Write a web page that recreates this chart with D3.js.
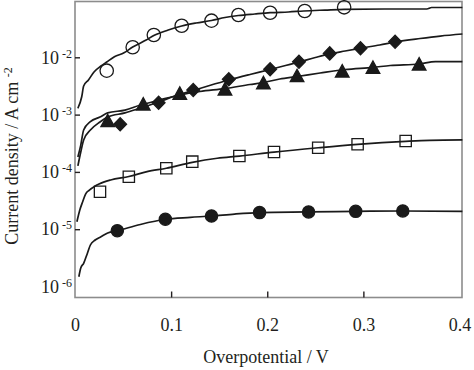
<!DOCTYPE html>
<html lang="en">
<head>
<meta charset="UTF-8"/>
<title>Current density vs overpotential</title>
<script src="https://d3js.org/d3.v7.min.js"></script>
<style>
	body { margin: 0; background: #fff; }
	text { font-family: "Liberation Serif", "Times New Roman", serif; fill: #231f20; }
	.curve { fill: none; stroke: #1a1a1a; stroke-width: 1.7; }
	.frame { fill: none; stroke: #8c8c8c; stroke-width: 1.6; }
	.tick line { stroke: #231f20; stroke-width: 1.4; }
</style>
</head>
<body>
<div id="chart"></div>
<script>
var w = 474;
var h = 370;

// measured points: overpotential (V) and current density (A cm-2)
var openCircV = [0.033, 0.060, 0.082, 0.111, 0.142, 0.170, 0.203, 0.239, 0.280];
var openCircJ = [5.84e-3, 1.50e-2, 2.45e-2, 3.56e-2, 4.36e-2, 5.47e-2, 6.00e-2, 6.43e-2, 7.46e-2];

var diamondV = [0.047, 0.087, 0.123, 0.160, 0.203, 0.233, 0.265, 0.297, 0.333];
var diamondJ = [6.78e-4, 1.61e-3, 2.69e-3, 4.13e-3, 6.18e-3, 8.37e-3, 1.17e-2, 1.44e-2, 1.87e-2];

var triangleV = [0.034, 0.071, 0.109, 0.156, 0.196, 0.231, 0.278, 0.310, 0.358];
var triangleJ = [7.84e-4, 1.53e-3, 2.36e-3, 2.80e-3, 3.60e-3, 4.78e-3, 5.77e-3, 6.68e-3, 7.64e-3];

var squareV = [0.026, 0.056, 0.095, 0.122, 0.171, 0.207, 0.253, 0.294, 0.344];
var squareJ = [4.51e-5, 8.24e-5, 1.16e-4, 1.51e-4, 1.89e-4, 2.22e-4, 2.64e-4, 3.03e-4, 3.46e-4];

var dotV = [0.044, 0.094, 0.142, 0.192, 0.243, 0.292, 0.341];
var dotJ = [9.42e-6, 1.49e-5, 1.70e-5, 1.95e-5, 2.00e-5, 2.05e-5, 2.08e-5];

// fitted curves
var openCircFitV = [0.003, 0.007, 0.009, 0.014, 0.020, 0.027, 0.033, 0.041, 0.051, 0.060, 0.074, 0.082, 0.097, 0.111, 0.126, 0.142, 0.156, 0.170, 0.187, 0.203, 0.222, 0.238, 0.260, 0.280, 0.323, 0.366, 0.371, 0.403];
var openCircFitJ = [1.29e-3, 2.05e-3, 3.16e-3, 4.02e-3, 5.61e-3, 7.05e-3, 8.28e-3, 1.02e-2, 1.20e-2, 1.51e-2, 2.00e-2, 2.40e-2, 2.99e-2, 3.52e-2, 3.97e-2, 4.39e-2, 4.95e-2, 5.36e-2, 5.70e-2, 6.00e-2, 6.18e-2, 6.43e-2, 6.68e-2, 6.89e-2, 6.97e-2, 6.97e-2, 7.40e-2, 7.40e-2];

var triangleFitV = [0.003, 0.006, 0.009, 0.016, 0.026, 0.034, 0.052, 0.068, 0.088, 0.109, 0.130, 0.156, 0.182, 0.196, 0.213, 0.231, 0.255, 0.281, 0.310, 0.328, 0.358, 0.375, 0.403];
var triangleFitJ = [1.82e-4, 2.94e-4, 5.38e-4, 7.52e-4, 9.08e-4, 1.07e-3, 1.20e-3, 1.47e-3, 1.80e-3, 2.20e-3, 2.53e-3, 2.85e-3, 3.35e-3, 3.63e-3, 4.18e-3, 4.62e-3, 5.32e-3, 6.12e-3, 6.68e-3, 7.19e-3, 7.64e-3, 8.38e-3, 8.38e-3];

var diamondFitV = [0.003, 0.006, 0.009, 0.016, 0.026, 0.034, 0.052, 0.068, 0.086, 0.104, 0.123, 0.140, 0.160, 0.182, 0.203, 0.219, 0.233, 0.250, 0.264, 0.281, 0.298, 0.317, 0.333, 0.359, 0.380, 0.403];
var diamondFitJ = [1.27e-4, 2.22e-4, 3.61e-4, 5.38e-4, 7.43e-4, 9.08e-4, 1.07e-3, 1.30e-3, 1.63e-3, 2.11e-3, 2.64e-3, 3.22e-3, 4.02e-3, 5.01e-3, 6.12e-3, 7.19e-3, 8.28e-3, 9.92e-3, 1.14e-2, 1.29e-2, 1.45e-2, 1.64e-2, 1.85e-2, 2.13e-2, 2.35e-2, 2.55e-2];

var squareFitV = [0.002, 0.005, 0.008, 0.011, 0.015, 0.021, 0.025, 0.037, 0.056, 0.075, 0.095, 0.122, 0.148, 0.171, 0.207, 0.253, 0.294, 0.344, 0.369, 0.403];
var squareFitJ = [1.35e-5, 2.16e-5, 3.02e-5, 4.11e-5, 4.83e-5, 5.67e-5, 6.15e-5, 7.23e-5, 8.32e-5, 1.01e-4, 1.16e-4, 1.47e-4, 1.73e-4, 1.89e-4, 2.22e-4, 2.64e-4, 3.03e-4, 3.42e-4, 3.56e-4, 3.61e-4];

var dotFitV = [0.004, 0.006, 0.009, 0.013, 0.016, 0.021, 0.027, 0.034, 0.044, 0.068, 0.094, 0.120, 0.142, 0.166, 0.192, 0.242, 0.292, 0.341, 0.403];
var dotFitJ = [1.48e-6, 2.10e-6, 2.54e-6, 3.85e-6, 5.30e-6, 6.48e-6, 7.40e-6, 8.59e-6, 9.42e-6, 1.21e-5, 1.49e-5, 1.61e-5, 1.70e-5, 1.84e-5, 1.95e-5, 2.00e-5, 2.05e-5, 2.08e-5, 2.04e-5];

var xTicks = [0, 0.1, 0.2, 0.3, 0.4];
var yTicks = [1e-2, 1e-3, 1e-4, 1e-5, 1e-6];

function zip(a, b) {
	return a.map(function(v, i){ return {v: v, j: b[i]}; });
}

var xScale = d3.scaleLinear().domain([0, 0.4]).range([75, 459.5]);
var yScale = d3.scaleLog()
			.domain([Math.pow(10, -6.192), Math.pow(10, -1.026)])
			.range([297.5, 1.5]);

var svg = d3.select("#chart")
			.append("svg")
			.attr("width", w)
			.attr("height", h);

// plot frame
svg.append("rect")
	.attr("class", "frame")
	.attr("x", 75)
	.attr("y", 1.5)
	.attr("width", 387)
	.attr("height", 296);

// axes
var xAxis = d3.axisBottom(xScale)
			.tickValues(xTicks)
			.tickSizeInner(-6)
			.tickSizeOuter(0)
			.tickPadding(21)
			.tickFormat(function(d){ return d === 0 ? "0" : d3.format(".1f")(d); });

var gx = svg.append("g")
	.attr("transform", "translate(0," + 297.5 + ")")
	.call(xAxis);
gx.select(".domain").remove();
gx.attr("font-size", 18).attr("font-family", null);
gx.selectAll(".tick line").style("display", function(d){ return (d === 0 || d === 0.4) ? "none" : null; });

var yAxis = d3.axisLeft(yScale)
			.tickValues(yTicks)
			.tickSizeInner(-5)
			.tickSizeOuter(0)
			.tickPadding(3)
			.tickFormat(function(){ return "10"; });

var gy = svg.append("g")
	.attr("transform", "translate(75,0)")
	.call(yAxis);
gy.select(".domain").remove();
gy.attr("font-size", 18).attr("font-family", null);
gy.selectAll(".tick line").style("display", function(d){ return d === 1e-6 ? "none" : null; });
gy.selectAll(".tick text")
	.append("tspan")
	.attr("dx", 3)
	.attr("dy", "-0.5em")
	.attr("font-size", 12)
	.text(function(d){ return "-" + Math.round(-Math.log10(d)); });

// axis titles
svg.append("text")
	.attr("x", 266)
	.attr("y", 363)
	.attr("text-anchor", "middle")
	.attr("font-size", 18)
	.text("Overpotential / V");

var yt = svg.append("text")
	.attr("transform", "translate(18,156) rotate(-90)")
	.attr("text-anchor", "middle")
	.attr("font-size", 18)
	.text("Current density / A cm ");
yt.append("tspan")
	.attr("dy", "-0.5em")
	.attr("font-size", 12)
	.text(" -2");

// markers
var sym = {
	openCirc: d3.symbol().type(d3.symbolCircle).size(140)(),
	dot: d3.symbol().type(d3.symbolCircle).size(118)(),
	square: d3.symbol().type(d3.symbolSquare).size(128)(),
	diamond: "M0,-6.6L6.4,0L0,6.6L-6.4,0Z",
	triangle: "M0,-6.4L6.8,6L-6.8,6Z"
};

var markerSets = [
	{data: zip(openCircV, openCircJ), shape: sym.openCirc, filled: false},
	{data: zip(diamondV, diamondJ), shape: sym.diamond, filled: true},
	{data: zip(triangleV, triangleJ), shape: sym.triangle, filled: true},
	{data: zip(squareV, squareJ), shape: sym.square, filled: false},
	{data: zip(dotV, dotJ), shape: sym.dot, filled: true}
];

markerSets.forEach(function(s){
	svg.append("g")
		.selectAll("path")
		.data(s.data)
		.enter()
		.append("path")
		.attr("d", s.shape)
		.attr("transform", function(d){ return "translate(" + xScale(d.v) + "," + yScale(d.j) + ")"; })
		.attr("fill", s.filled ? "#1a1a1a" : "none")
		.attr("stroke", "#1a1a1a")
		.attr("stroke-width", 1.3);
});

// fitted curves
var line = d3.line()
			.curve(d3.curveMonotoneX)
			.x(function(d){ return xScale(d.v); })
			.y(function(d){ return yScale(d.j); });

[
	zip(openCircFitV, openCircFitJ),
	zip(triangleFitV, triangleFitJ),
	zip(diamondFitV, diamondFitJ),
	zip(squareFitV, squareFitJ),
	zip(dotFitV, dotFitJ)
].forEach(function(c){
	svg.append("path")
		.datum(c)
		.attr("class", "curve")
		.attr("d", line);
});
</script>
</body>
</html>
